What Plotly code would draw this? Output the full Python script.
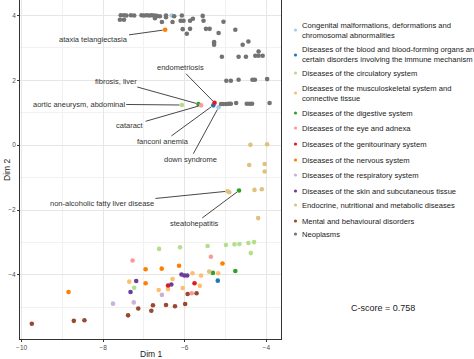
import plotly.graph_objects as go

# ---------------- data ----------------
categories = [
    "Congenital malformations, deformations and<br>chromosomal abnormalities",
    "Diseases of the blood and blood-forming organs and<br>certain disorders involving the immune mechanism",
    "Diseases of the circulatory system",
    "Diseases of the musculoskeletal system and<br>connective tissue",
    "Diseases of the digestive system",
    "Diseases of the eye and adnexa",
    "Diseases of the genitourinary system",
    "Diseases of the nervous system",
    "Diseases of the respiratory system",
    "Diseases of the skin and subcutaneous tissue",
    "Endocrine, nutritional and metabolic diseases",
    "Mental and behavioural disorders",
    "Neoplasms",
]

congenital_x = [-5.17, -6.32]
congenital_y = [1.17, 4.00]

blood_x = [-5.30, -5.19]
blood_y = [1.23, -4.18]

circulatory_x = [-6.07, -6.63, -6.115, -5.44, -4.99, -4.78, -4.66, -4.44, -4.30, -4.38, -7.24]
circulatory_y = [1.24, -3.20, -3.15, -3.11, -3.08, -3.06, -3.05, -3.02, -2.99, -3.33, -4.40]

musculoskeletal_x = [-7.36, -6.30, -5.81, -5.60, -5.18, -6.64, -6.41, -6.05, -5.63]
musculoskeletal_y = [-4.21, -4.13, -3.95, -4.02, -3.95, -4.47, -4.44, -4.41, -4.34]

digestive_x = [-5.665, -4.67, -5.31, -4.76]
digestive_y = [1.27, -1.40, -3.94, -3.88]

eye_x = [-5.60, -5.36, -7.28, -5.83]
eye_y = [1.23, -3.44, -3.56, -4.57]

genitourinary_x = [-5.27, -5.76, -6.41]
genitourinary_y = [1.31, -4.26, -4.33]

nervous_x = [-6.48, -5.075, -6.96, -6.565, -6.14, -6.96, -8.85]
nervous_y = [3.56, -3.65, -3.83, -3.81, -3.72, -4.26, -4.53]

respiratory_x = [-7.76, -7.25, -6.56]
respiratory_y = [-4.89, -4.85, -4.62]

skin_x = [-7.33, -7.19, -6.33, -6.08, -6.01, -5.94]
skin_y = [-4.53, -4.19, -4.30, -3.99, -4.02, -4.02]

endocrine_x = [-5.40, -4.95, -4.91, -4.39, -3.98, -4.42, -4.04, -4.04, -4.29, -4.11, -4.20]
endocrine_y = [-3.90, -1.42, -1.45, 0.01, 0.03, -0.61, -0.58, -0.81, -1.38, -1.36, -2.25]

mental_x = [-9.75, -8.72, -8.46, -7.39, -7.14, -6.82, -6.78, -6.46, -6.24, -5.99, -5.93, -5.71]
mental_y = [-5.51, -5.42, -5.40, -5.25, -5.04, -5.11, -4.94, -4.93, -4.97, -4.90, -4.59, -4.57]

neoplasms_x = [
    -7.57, -7.49, -7.43, -7.32, -7.24, -7.06, -7.00, -6.93, -6.87, -6.81, -6.75, -6.69, -6.61,
    -6.46, -6.26, -6.07, -5.56,
    -7.59, -7.49, -6.73, -6.46, -6.56, -6.30, -6.10, -6.03, -5.87, -5.80, -5.54, -5.05,
    -6.05, -5.87, -5.95, -5.48, -5.39, -5.17, -4.76, -5.28, -5.28, -4.58, -4.44,
    -5.09, -4.68, -4.50, -4.27, -4.19, -4.09, -4.19,
    -4.98, -4.87, -4.68, -4.34, -4.28, -3.98,
    -5.11, -5.05, -4.98, -4.92, -4.87, -4.74, -4.48, -4.41, -4.35, -3.92,
]
neoplasms_y = [
    4.01, 4.01, 4.00, 4.01, 4.00, 4.01, 4.00, 4.01, 4.00, 4.01, 4.00, 3.99, 3.98,
    4.00, 3.98, 4.00, 3.99,
    3.87, 3.87, 3.92, 3.95, 3.80, 3.80, 3.84, 3.84, 3.84, 3.90, 3.84, 3.81,
    3.58, 3.59, 3.44, 3.59, 3.59, 3.46, 3.56, 3.18, 3.10, 3.10, 3.20,
    2.73, 2.73, 2.73, 2.76, 2.76, 2.76, 2.89,
    1.99, 1.99, 2.02, 2.02, 2.02, 2.04,
    1.27, 1.27, 1.27, 1.28, 1.28, 1.30, 1.28, 1.28, 1.28, 1.30,
]

series_x = [congenital_x, blood_x, circulatory_x, musculoskeletal_x, digestive_x, eye_x,
            genitourinary_x, nervous_x, respiratory_x, skin_x, endocrine_x, mental_x, neoplasms_x]
series_y = [congenital_y, blood_y, circulatory_y, musculoskeletal_y, digestive_y, eye_y,
            genitourinary_y, nervous_y, respiratory_y, skin_y, endocrine_y, mental_y, neoplasms_y]

# labelled diseases and the point each label refers to
label_texts = ["ataxia telangiectasia", "endometriosis", "fibrosis, liver",
               "aortic aneurysm, abdominal", "cataract", "fanconi anemia", "down syndrome",
               "non-alcoholic fatty liver disease", "steatohepatitis"]
label_point_x = [-6.48, -5.27, -5.665, -6.07, -5.60, -5.30, -5.17, -4.95, -4.67]
label_point_y = [3.56, 1.31, 1.27, 1.24, 1.23, 1.23, 1.17, -1.42, -1.40]

c_score = 0.758
x_title = "Dim 1"
y_title = "Dim 2"

# ---------------- styles / layout ----------------
colors = ["#A6CEE3", "#1F78B4", "#B2DF8A", "#FDBF6F", "#33A02C", "#FB9A99", "#E31A1C",
          "#FF7F00", "#CAB2D6", "#6A3D9A", "#DFC27D", "#99492D", "#737373"]

# text-centre positions of the repelled labels (in axis units)
label_text_x = [-8.25, -6.115, -7.69, -8.60, -7.34, -6.53, -5.87, -8.03, -5.77]
label_text_y = [3.25, 2.39, 1.98, 1.27, 0.60, 0.10, -0.45, -1.81, -2.43]

W, H = 474, 359
ML, MR, MT, MB = 20, 193, 0, 20
PW, PH = W - ML - MR, H - MT - MB


def pxx(px):
    return (px - ML) / PW


def pyy(py):
    return (H - MB - py) / PH


FONT = "Liberation Sans, Arial, Helvetica, sans-serif"

fig = go.Figure()
for name, xs, ys, col in zip(categories, series_x, series_y, colors):
    fig.add_trace(go.Scatter(
        x=xs, y=ys, mode="markers", name=name.replace("<br>", " "),
        marker=dict(color=col, size=4.6, line=dict(width=0)),
        showlegend=False, hoverinfo="x+y+name",
    ))

annotations = []
for t, px_, py_, tx, ty in zip(label_texts, label_point_x, label_point_y, label_text_x, label_text_y):
    annotations.append(dict(
        x=px_, y=py_, xref="x", yref="y", ax=tx, ay=ty, axref="x", ayref="y",
        text=t, showarrow=True, arrowhead=0, arrowwidth=0.9, arrowcolor="#333333",
        standoff=2.5, font=dict(size=7.5, color="#333333", family=FONT),
        borderpad=1,
    ))

# manual legend
legend_rows_py = [30, 55, 73, 93, 113, 128, 144, 160, 175, 191, 205, 221, 234]
shapes = []
for name, col, yc in zip(categories, colors, legend_rows_py):
    annotations.append(dict(
        x=pxx(300), y=pyy(yc), xref="paper", yref="paper", xanchor="left", yanchor="middle",
        text=name, showarrow=False, align="left",
        font=dict(size=7.6, color="#1a1a1a", family=FONT),
    ))
    shapes.append(dict(
        type="circle", xref="paper", yref="paper", xsizemode="pixel", ysizemode="pixel",
        xanchor=pxx(295.5), yanchor=pyy(yc), x0=-1.6, x1=1.6, y0=-1.6, y1=1.6,
        fillcolor=col, line=dict(width=0),
    ))

annotations.append(dict(
    x=pxx(383), y=pyy(308), xref="paper", yref="paper", xanchor="center", yanchor="middle",
    text=f"C-score = {c_score}", showarrow=False,
    font=dict(size=9, color="#1a1a1a", family=FONT),
))
# axis titles
annotations.append(dict(
    x=pxx(151), y=pyy(354), xref="paper", yref="paper", xanchor="center", yanchor="middle",
    text=x_title, showarrow=False, font=dict(size=8.5, color="#1a1a1a", family=FONT),
))
annotations.append(dict(
    x=pxx(7), y=pyy(170), xref="paper", yref="paper", xanchor="center", yanchor="middle",
    text=y_title, showarrow=False, textangle=-90,
    font=dict(size=8.5, color="#1a1a1a", family=FONT),
))

axis_common = dict(
    showgrid=True, gridcolor="#e6e6e6", gridwidth=0.6,
    minor=dict(showgrid=True, gridcolor="#f1f1f1", gridwidth=0.5, dtick=1),
    zeroline=False, showline=True, linecolor="#333333", linewidth=0.9,
    ticks="outside", ticklen=2, tickwidth=0.8, tickcolor="#333333",
    tickfont=dict(size=6.5, color="#4d4d4d", family=FONT),
)

fig.update_layout(
    width=W, height=H,
    margin=dict(l=ML, r=MR, t=MT, b=MB, autoexpand=False),
    paper_bgcolor="white", plot_bgcolor="white",
    font=dict(family=FONT, color="#1a1a1a"),
    showlegend=False,
    annotations=annotations,
    shapes=shapes,
    xaxis=dict(range=[-10.04, -3.64], dtick=2, tick0=0, **axis_common),
    yaxis=dict(range=[-5.98, 4.48], dtick=2, tick0=0, mirror=True, **axis_common),
)

fig.write_html(
    "out.html",
    config={"displayModeBar": False},
    post_script="document.body.style.margin='0px';document.body.style.padding='0px';",
)
